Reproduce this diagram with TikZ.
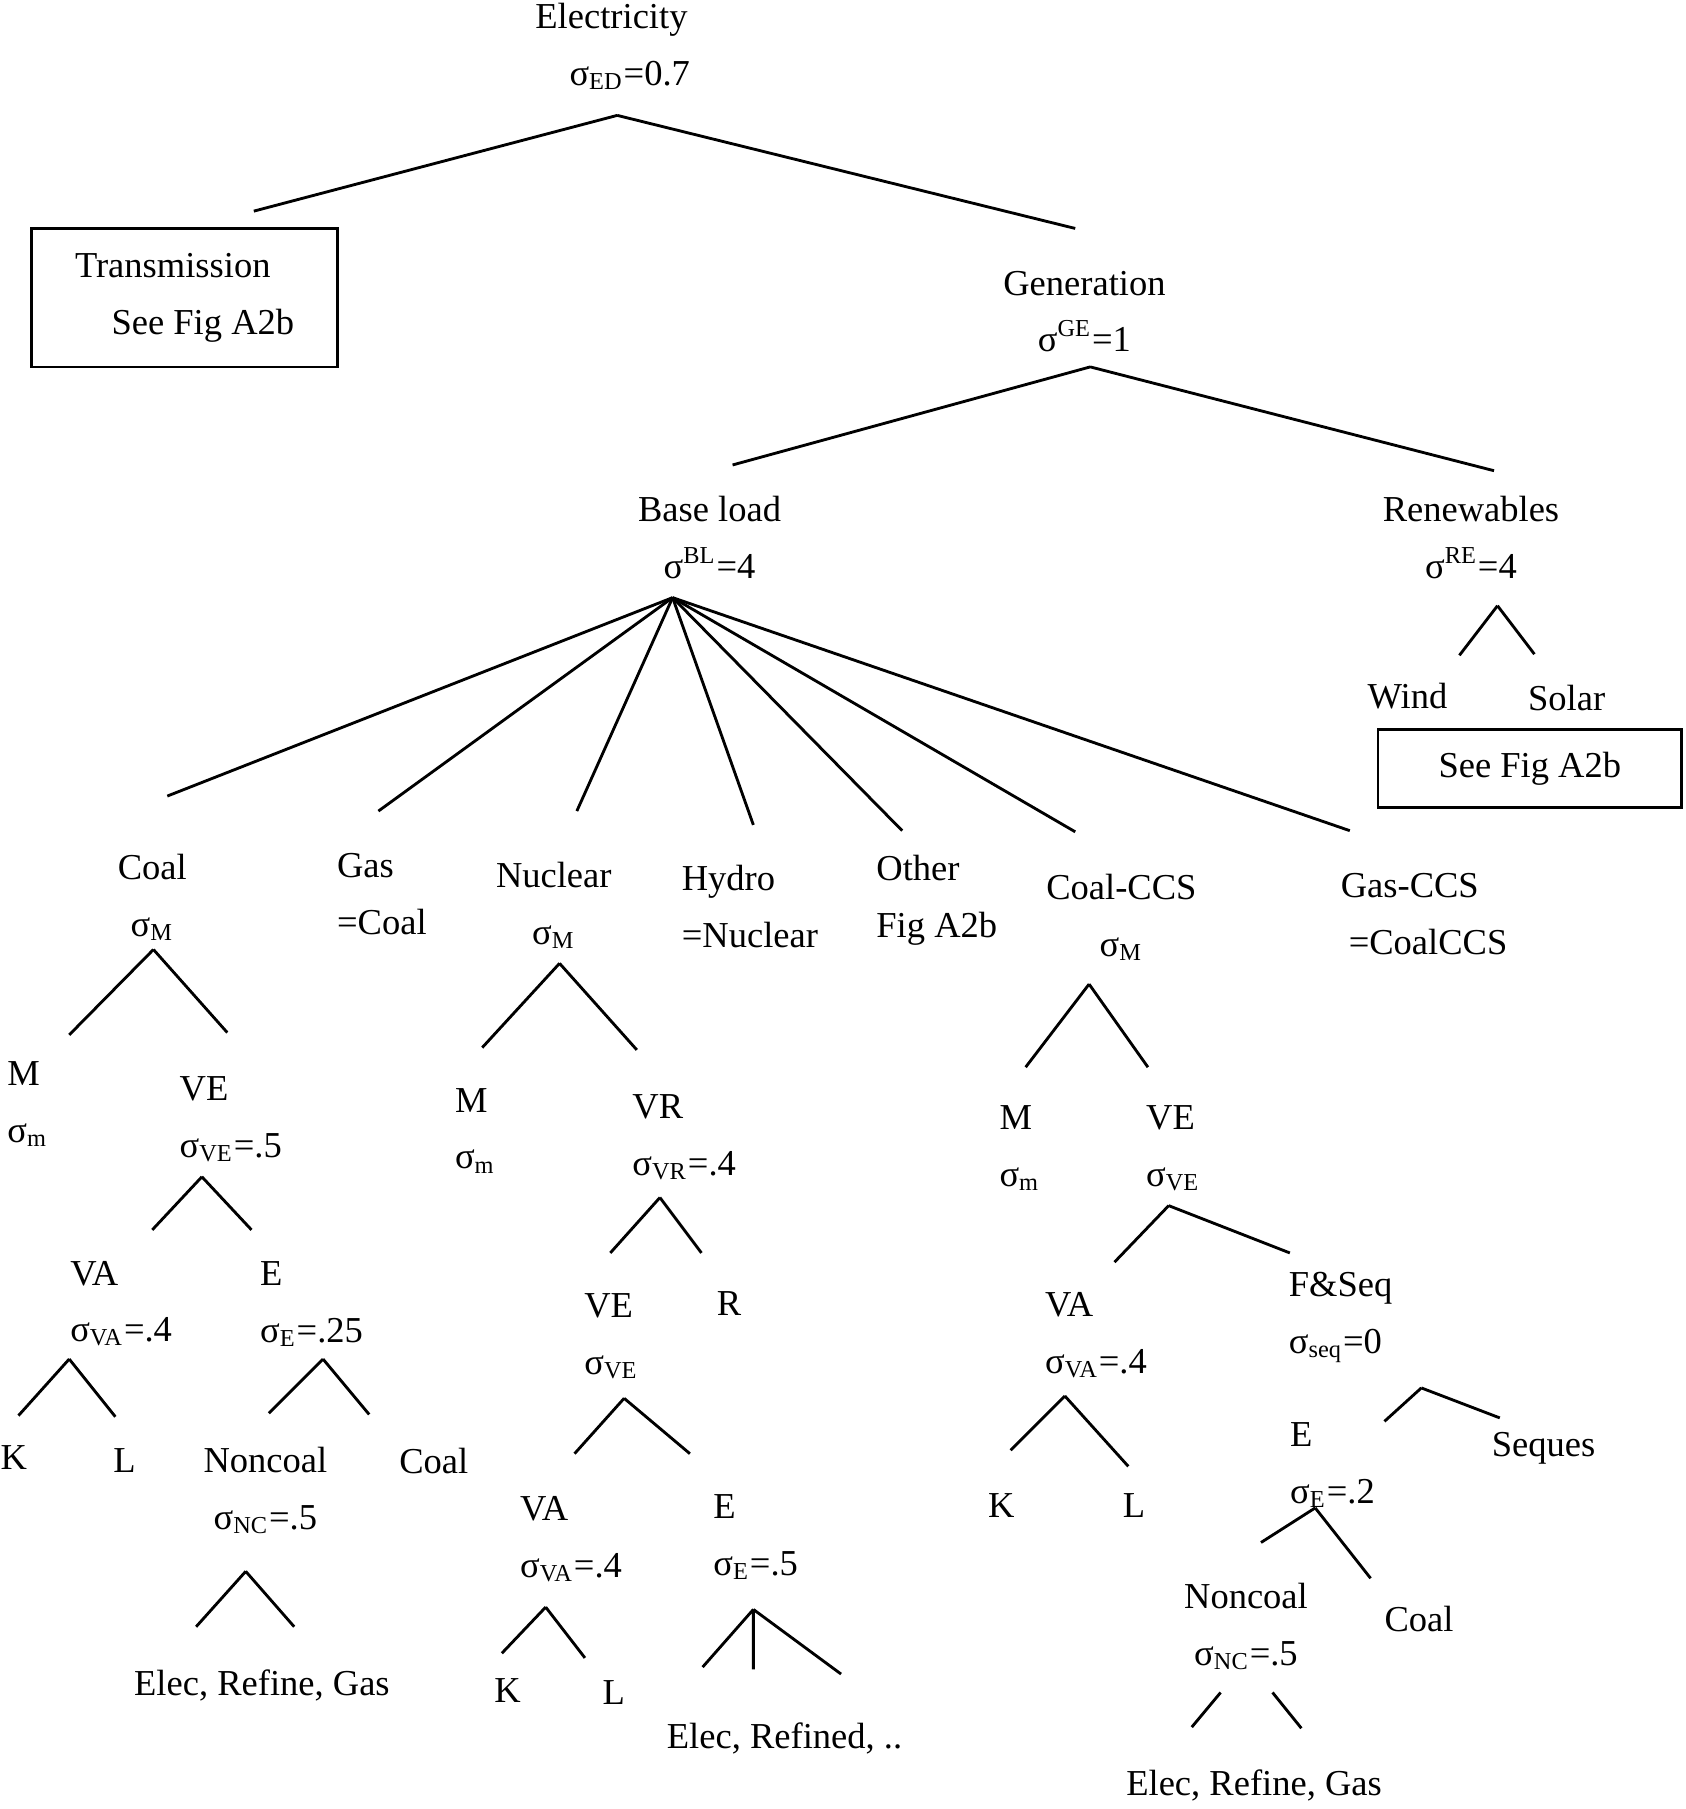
\documentclass[tikz,border=0pt]{standalone}
\usepackage{fontspec}
\setmainfont{Liberation Serif}
\usetikzlibrary{positioning}
\tikzstyle{lbl} = [inner sep=0pt, align=center, font=\fontsize{9}{14}\selectfont]
\tikzstyle{lbll} = [lbl, align=left]
\tikzstyle{box} = [lbl, rectangle, draw, line width=0.7pt]
\tikzstyle{line} = [draw, line width=0.7pt]
\newcommand{\sg}{σ}

\begin{document}
\begin{tikzpicture}[x=0.01cm, y=-0.01cm]
        \useasboundingbox (0,0) rectangle (1461,1568);
        % Top levels
        \node [lbl] (el) at (530,40) {Electricity\\\quad\sg\textsubscript{ED}=0.7};
        \node [box, align=left, minimum width=2.65cm, minimum height=1.2cm] (trans) at (160,258) {Transmission\\\quad See Fig A2b};
        \node [lbl] (gen) at (940,270) {Generation\\\sg\textsuperscript{GE}=1};
        \node [lbl] (bl) at (615,466) {Base load\\\sg\textsuperscript{BL}=4};
        \node [lbl] (re) at (1275,466) {Renewables\\\sg\textsuperscript{RE}=4};
        \node [lbl] (wind) at (1220,603) {Wind};
        \node [lbl] (solar) at (1358,605) {Solar};
        \node [box, minimum width=2.63cm, minimum height=0.68cm] (refig) at (1326,666) {See Fig A2b};
        % Base load technologies
        \node [lbl] (coal) at (132,778) {Coal\\\sg\textsubscript{M}};
        \node [lbll] (gas) at (331,775) {Gas\\=Coal};
        \node [lbl] (nuc) at (480,785) {Nuclear\\\sg\textsubscript{M}};
        \node [lbll] (hyd) at (650,786) {Hydro\\=Nuclear};
        \node [lbll] (oth) at (812,780) {Other\\Fig A2b};
        \node [lbl] (ccs) at (972,795) {Coal-CCS\\\sg\textsubscript{M}};
        \node [lbl] (gccs) at (1222,792) {Gas-CCS\\\quad=CoalCCS};
        % Coal
        \node [lbll] (m1) at (24,957) {M\\\sg\textsubscript{m}};
        \node [lbll] (ve1) at (200,970) {VE\\\sg\textsubscript{VE}=.5};
        \node [lbll] (va1) at (105,1130) {VA\\\sg\textsubscript{VA}=.4};
        \node [lbll] (e1) at (270,1130) {E\\\sg\textsubscript{E}=.25};
        \node [lbl] (k1) at (12,1263) {K};
        \node [lbl] (l1) at (108,1266) {L};
        \node [lbl] (nc1) at (230,1292) {Noncoal\\\sg\textsubscript{NC}=.5};
        \node [lbl] (c1) at (376,1266) {Coal};
        \node [lbl] (in1) at (227,1461) {Elec,\ Refine,\ Gas};
        % Nuclear
        \node [lbll] (m2) at (412,980) {M\\\sg\textsubscript{m}};
        \node [lbll] (vr) at (593,986) {VR\\\sg\textsubscript{VR}=.4};
        \node [lbll] (ve2) at (530,1158) {VE\\\sg\textsubscript{VE}};
        \node [lbl] (r2) at (632,1130) {R};
        \node [lbll] (va2) at (495,1334) {VA\\\sg\textsubscript{VA}=.4};
        \node [lbll] (e2) at (655,1332) {E\\\sg\textsubscript{E}=.5};
        \node [lbl] (k2) at (440,1465) {K};
        \node [lbl] (l2) at (532,1467) {L};
        \node [lbl] (in2) at (680,1507) {Elec,\ Refined,\ ..};
        % Coal-CCS
        \node [lbll] (m3) at (884,995) {M\\\sg\textsubscript{m}};
        \node [lbll] (ve3) at (1017,995) {VE\\\sg\textsubscript{VE}};
        \node [lbll] (va3) at (950,1157) {VA\\\sg\textsubscript{VA}=.4};
        \node [lbll] (fs) at (1162,1142) {F\&Seq\\\sg\textsubscript{seq}=0};
        \node [lbl] (k3) at (868,1305) {K};
        \node [lbl] (l3) at (983,1305) {L};
        \node [lbll] (e3) at (1155,1270) {E\\\sg\textsubscript{E}=.2};
        \node [lbl] (seq) at (1338,1255) {Seques};
        \node [lbl] (nc3) at (1080,1410) {Noncoal\\\sg\textsubscript{NC}=.5};
        \node [lbl] (c3) at (1230,1403) {Coal};
        \node [lbl] (in3) at (1087,1548) {Elec,\ Refine,\ Gas};
        % Forks
        \coordinate (elF) at (535,100);
        \coordinate (genF) at (945,318);
        \coordinate (blF) at (583,518);
        \coordinate (reF) at (1298,525);
        \coordinate (coalF) at (133,823);
        \coordinate (ve1F) at (175,1020);
        \coordinate (va1F) at (60,1178);
        \coordinate (e1F) at (280,1178);
        \coordinate (nc1F) at (213,1362);
        \coordinate (nucF) at (485,835);
        \coordinate (vrF) at (572,1038);
        \coordinate (ve2F) at (541,1212);
        \coordinate (va2F) at (473,1393);
        \coordinate (e2F) at (653,1395);
        \coordinate (ccsF) at (944,853);
        \coordinate (ve3F) at (1013,1045);
        \coordinate (va3F) at (923,1210);
        \coordinate (fsF) at (1232,1203);
        \coordinate (e3F) at (1140,1307);
        \coordinate (nc3F) at (1080,1467);
        % Draw edges
        \path [line] (elF) -- ++(-315,83) (elF) -- ++(397,98);
        \path [line] (genF) -- ++(-310,85) (genF) -- ++(350,90);
        \foreach \dx/\dy in {-438/172, -255/185, -83/185, 70/197, 199/202, 349/203, 587/202}
            \path [line] (blF) -- ++(\dx,\dy);
        \path [line] (reF) -- ++(-33,43) (reF) -- ++(32,42);
        \path [line] (coalF) -- ++(-73,74) (coalF) -- ++(64,72);
        \path [line] (ve1F) -- ++(-43,46) (ve1F) -- ++(43,46);
        \path [line] (va1F) -- ++(-44,49) (va1F) -- ++(40,50);
        \path [line] (e1F) -- ++(-47,47) (e1F) -- ++(40,48);
        \path [line] (nc1F) -- ++(-43,48) (nc1F) -- ++(42,48);
        \path [line] (nucF) -- ++(-67,73) (nucF) -- ++(67,75);
        \path [line] (vrF) -- ++(-43,48) (vrF) -- ++(36,48);
        \path [line] (ve2F) -- ++(-43,48) (ve2F) -- ++(57,48);
        \path [line] (va2F) -- ++(-38,40) (va2F) -- ++(34,44);
        \path [line] (e2F) -- ++(-44,50) (e2F) -- ++(0,52) (e2F) -- ++(76,56);
        \path [line] (ccsF) -- ++(-55,72) (ccsF) -- ++(51,72);
        \path [line] (ve3F) -- ++(-47,49) (ve3F) -- ++(105,41);
        \path [line] (va3F) -- ++(-47,47) (va3F) -- ++(55,61);
        \path [line] (fsF) -- ++(-32,29) (fsF) -- ++(68,26);
        \path [line] (e3F) -- ++(-47,30) (e3F) -- ++(48,61);
        \path [line] (nc3F) ++(-22,0) -- ++(-25,30);
        \path [line] (nc3F) ++(23,0) -- ++(25,31);
    \end{tikzpicture}
\end{document}
